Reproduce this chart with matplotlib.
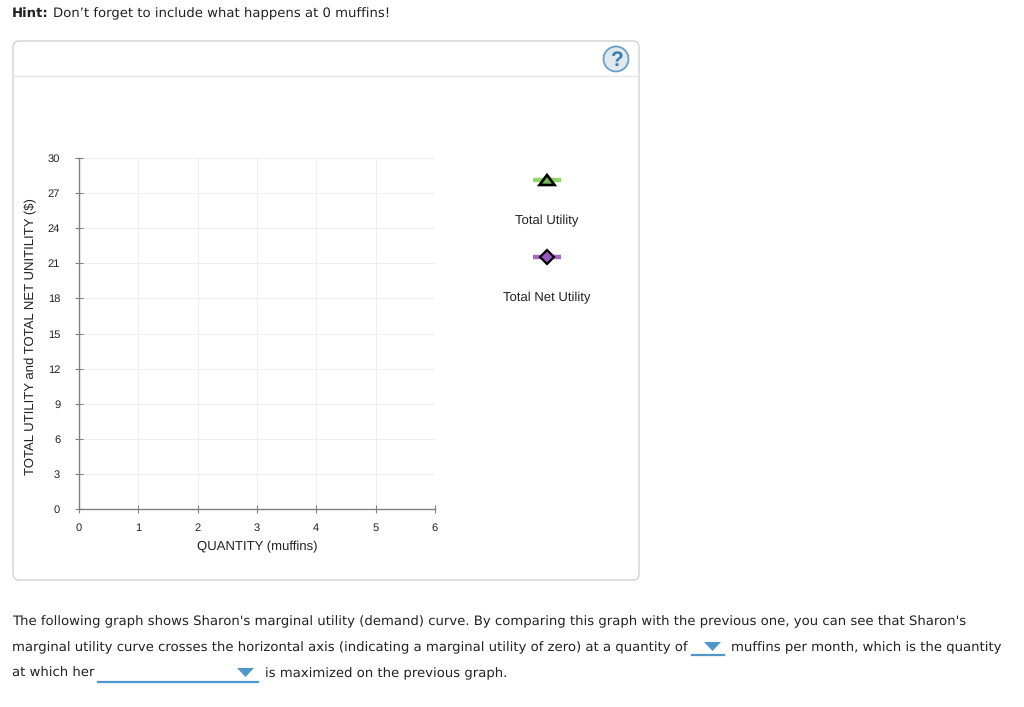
import matplotlib
matplotlib.use('Agg')
import matplotlib.pyplot as plt
from matplotlib.patches import FancyBboxPatch, Circle, Polygon

plt.rcParams['text.hinting'] = 'none'

x_ticks = [0, 1, 2, 3, 4, 5, 6]
y_ticks = [0, 3, 6, 9, 12, 15, 18, 21, 24, 27, 30]
legend_labels = ['Total Utility', 'Total Net Utility']
x_label = 'QUANTITY (muffins)'
y_label = 'TOTAL UTILITY and TOTAL NET UNITILITY ($)'
line1 = 'The following graph shows Sharon\'s marginal utility (demand) curve. By comparing this graph with the previous one, you can see that Sharon\'s'
line2a = 'marginal utility curve crosses the horizontal axis (indicating a marginal utility of zero) at a quantity of'
line2b = 'muffins per month, which is the quantity'
line3a = 'at which her'
line3b = 'is maximized on the previous graph.'

W, H = 1024, 707
fig = plt.figure(figsize=(W/100, H/100), dpi=100)

# page layer in pixel coords
bg = fig.add_axes([0, 0, 1, 1])
bg.set_xlim(0, W)
bg.set_ylim(H, 0)
bg.axis('off')

body = dict(family='DejaVu Sans', fontsize=9.5, color='#222222', va='baseline')
bg.text(12, 17, 'Hint:', fontweight='bold', **body)
bg.text(53, 17, 'Don\u2019t forget to include what happens at 0 muffins!', **body)
bg.text(12, 625, line1, **body)
bg.text(12, 651, line2a, **body)
bg.text(731, 651, line2b, **body)
bg.text(12, 677, line3a, **body)
bg.text(265, 677, line3b, **body)

# panel
bg.add_patch(FancyBboxPatch((13, 41), 626, 539, boxstyle='round,pad=0,rounding_size=6',
                            fc='white', ec='#cccccc', lw=0.9))
bg.plot([13, 639], [76, 76], color='#e4e4e4', lw=0.9)

# help button
bg.add_patch(Circle((616, 59), 12.5, fc='#dfe9f1', ec='#6d9fc4', lw=1.3))
bg.text(616, 60.5, '?', family='Liberation Sans', fontsize=15, fontweight='bold',
        color='#3f79a6', ha='center', va='center')

# dropdowns
blue = '#4f97cb'
bg.plot([692, 724], [655, 655], color=blue, lw=1.6)
bg.add_patch(Polygon([[704, 642], [721, 642], [712.5, 651]], fc=blue, ec='none'))
bg.plot([98, 258], [682, 682], color=blue, lw=1.6)
bg.add_patch(Polygon([[237, 668], [254, 668], [245.5, 677]], fc=blue, ec='none'))

# legend
lab = dict(family='Liberation Sans', fontsize=9.45, color='#222222', ha='center', va='center')
bg.plot([533, 561], [180, 180], color='#8fd86a', lw=3.2, solid_capstyle='butt')
bg.add_patch(Polygon([[539.5, 185], [554.5, 185], [547, 175]], fc='#78b858', ec='black', lw=1.9, zorder=3))
bg.text(547, 221, legend_labels[0], **lab)
bg.plot([533, 561], [257, 257], color='#aa66cc', lw=3.2, solid_capstyle='butt')
bg.plot([547], [257], marker='D', ms=7, mfc='#9a58c0', mec='black', mew=1.6)
bg.text(547, 298, legend_labels[1], **lab)

# chart
ax = fig.add_axes([79/W, 1 - 509/H, (435-79)/W, (509-158)/H])
ax.patch.set_alpha(0)
ax.set_xlim(0, 6)
ax.set_ylim(0, 30)
ax.set_xticks(x_ticks)
ax.set_yticks(y_ticks)
ax.grid(True, color='#eeeeee', lw=0.7)
ax.set_axisbelow(True)
for s in ['top', 'right']:
    ax.spines[s].set_visible(False)
for s in ['left', 'bottom']:
    ax.spines[s].set_color('#808080')
    ax.spines[s].set_linewidth(1)
ax.tick_params(axis='x', direction='inout', length=5.5, width=0.8, color='#808080', pad=7.5,
               labelsize=8, labelcolor='#222222')
ax.tick_params(axis='y', direction='inout', length=6, width=0.8, color='#808080', pad=10.5,
               labelsize=8, labelcolor='#222222')
for t in ax.get_xticklabels() + ax.get_yticklabels():
    t.set_family('Liberation Sans')
ax.set_xlabel(x_label, family='Liberation Sans', fontsize=9.45, color='#222222')
ax.xaxis.set_label_coords(0.5, -0.09)
bg.text(31, 337, y_label, family='Liberation Sans', fontsize=9.45, color='#222222',
        rotation=90, ha='center', va='center')

fig.savefig('out.png', dpi=100)
